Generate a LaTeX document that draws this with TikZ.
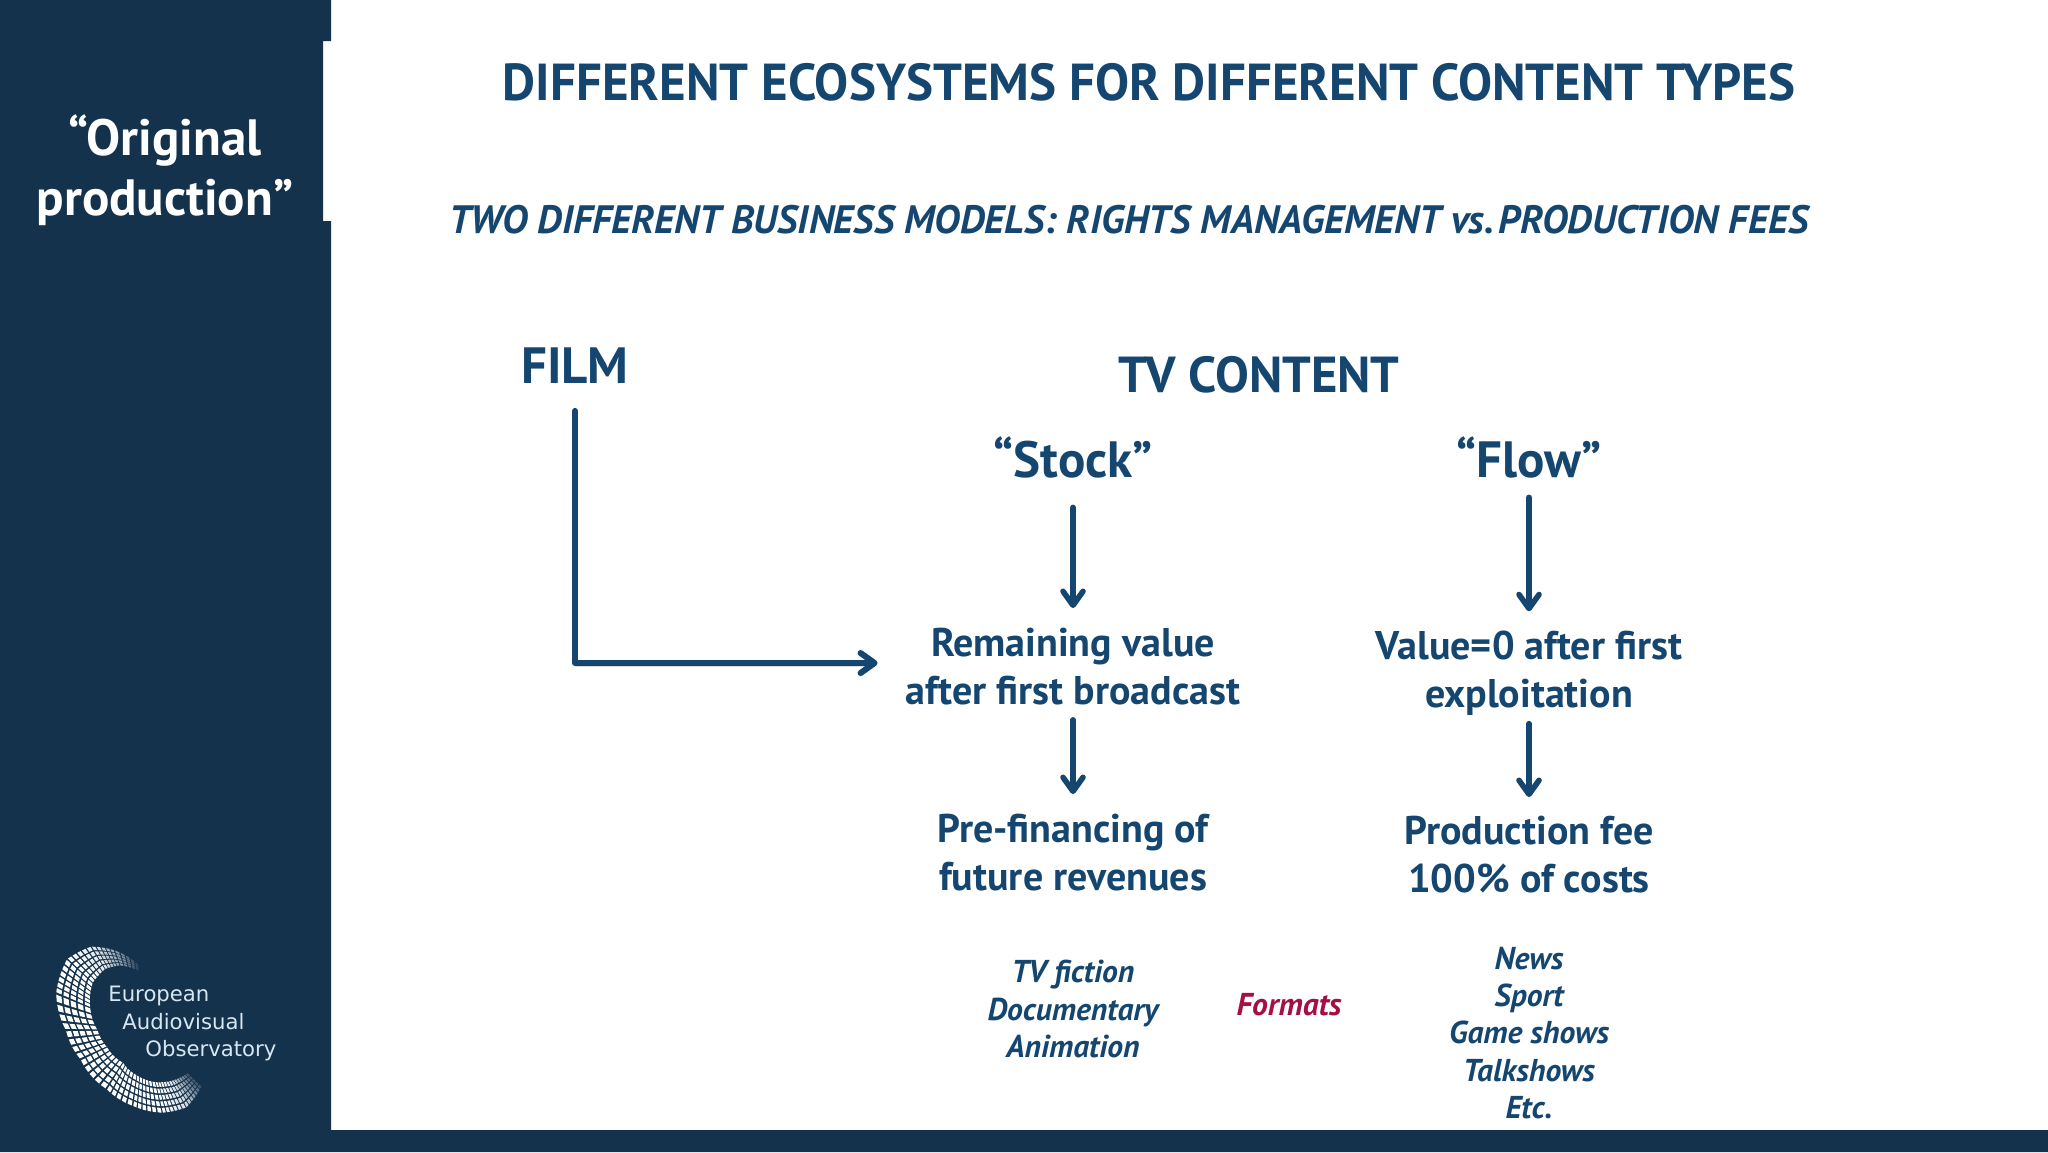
\documentclass[tikz,border=0pt]{standalone}
\usepackage{fontspec}
\usepackage{graphicx}
\setmainfont{PT Sans}
\newfontfamily\logofont{DejaVu Sans}
\usetikzlibrary{arrows.meta}
\definecolor{panel}{HTML}{15324D}
\definecolor{ink}{HTML}{154670}
\definecolor{formatred}{HTML}{A50F45}
\definecolor{logotext}{HTML}{D8E6EF}
\tikzset{
  txt/.style={inner sep=0pt,align=center,text=ink,font=\bfseries\fontsize{#1}{#1}\selectfont},
  body/.style={inner sep=0pt,align=center,text=ink,font=\bfseries\fontsize{20}{24}\selectfont},
  tag/.style={inner sep=0pt,align=center,text=ink,font=\bfseries\itshape\fontsize{15.8}{18.7}\selectfont},
  arr/.style={draw=ink,line width=2.8pt,-{Straight Barb[length=7pt,width=10pt,round]},line cap=round},
  bigarr/.style={draw=ink,line width=3pt,line join=round,line cap=round,-{Straight Barb[length=7pt,width=10pt,round]},
    preaction={draw=black,opacity=.14,transform canvas={yshift=-1.5pt}}},
  logotxt/.style={inner sep=0pt,anchor=base west,text=logotext,font=\logofont\fontsize{10.6}{10.6}\selectfont},
}
\begin{document}
\begin{tikzpicture}[x=0.5pt,y=-0.5pt]
\useasboundingbox (0,0) rectangle (2048,1152);
\fill[white] (0,0) rectangle (2048,1152);
\fill[panel] (0,0) -- (331,0) -- (331,41) -- (323,41) -- (323,221) -- (331,221) -- (331,1130) -- (2048,1130) -- (2048,1152) -- (0,1152) -- cycle;
% logo
\begin{scope}[shift={(143.3,1030)}]
\foreach \a/\b/\roa/\rob/\ria/\rib/\n/\opa/\opb in {
 94/110/195/256/178/205/5/0.1/0.55,
 110/122/256/297/205/214/5/0.55/0.9,
 122/137/297/315/214/205/5/0.9/1,
 137/157/315/287/205/170/6/1/1,
 157/180/287/235/170/135/4/1/1,
 180/205/235/210/135/118/4/1/1,
 205/238/210/211/118/113/5/1/1,
 238/262/211/232/113/135/5/1/1,
 262/283/232/257/135/158/6/1/1,
 283/299/257/268/158/172/6/1/0.85,
 299/316/268/244/172/185/7/0.85/0.15}{
  \foreach \k in {1,...,\n}{
    \pgfmathsetmacro{\ta}{(\k-1+0.15)/\n}
    \pgfmathsetmacro{\tb}{(\k-0.15)/\n}
    \pgfmathsetmacro{\angA}{-(\a+(\b-\a)*\ta)}
    \pgfmathsetmacro{\angB}{-(\a+(\b-\a)*\tb)}
    \pgfmathsetmacro{\ooA}{(\roa+(\rob-\roa)*\ta)/3}
    \pgfmathsetmacro{\ooB}{(\roa+(\rob-\roa)*\tb)/3}
    \pgfmathsetmacro{\iiA}{(\ria+(\rib-\ria)*\ta)/3}
    \pgfmathsetmacro{\iiB}{(\ria+(\rib-\ria)*\tb)/3}
    \pgfmathsetmacro{\tileop}{\opa+(\opb-\opa)*(\k-0.5)/\n}
    \foreach \j in {0,...,4}{
      \pgfmathsetmacro{\sa}{(\j+0.13)/5}
      \pgfmathsetmacro{\sb}{(\j+0.87)/5}
      \pgfmathsetmacro{\rA}{\iiA+(\ooA-\iiA)*\sa}
      \pgfmathsetmacro{\rB}{\iiA+(\ooA-\iiA)*\sb}
      \pgfmathsetmacro{\rC}{\iiB+(\ooB-\iiB)*\sb}
      \pgfmathsetmacro{\rD}{\iiB+(\ooB-\iiB)*\sa}
      \fill[white,opacity=\tileop] (\angA:\rA) -- (\angA:\rB) -- (\angB:\rC) -- (\angB:\rD) -- cycle;
    }
  }
}
\end{scope}
\node[logotxt] (l1) at (108,1001) {European};
\node[logotxt] (l2) at (122,1029) {Audiovisual};
\node[logotxt] (l3) at (145,1056) {Observatory};
% side heading
\node[inner sep=0pt,align=center,text=white,font=\bfseries\fontsize{25.5}{30}\selectfont] (side) at (165,170) {“Original\\production”};
% titles
\node[txt=26] (title) at (1149,82) {\scalebox{.98}[1]{DIFFERENT ECOSYSTEMS FOR DIFFERENT CONTENT TYPES}};
\node[inner sep=0pt,text=ink,font=\bfseries\itshape\fontsize{19.8}{24}\selectfont] (sub) at (1129,220) {TWO DIFFERENT BUSINESS MODELS: RIGHTS MANAGEMENT vs.\hspace{0.1em}PRODUCTION FEES};
% headings
\node[txt=25.5,minimum height=44.5pt] (film) at (575,366) {FILM};
\node[txt=25.3] (tv) at (1259,375) {TV CONTENT};
\node[txt=25.5,minimum height=50pt] (stock) at (1073,457) {“Stock”};
\node[txt=25.5,minimum height=40pt] (flow) at (1529,457) {“Flow”};
% body
\node[body] (rem) at (1073,667) {Remaining value\\after first broadcast};
\node[body] (val) at (1529,673) {Value=0 after first\\exploitation};
\node[body] (pre) at (1073,853) {Pre-financing of\\future revenues};
\node[body] (fee) at (1529,855) {Production fee\\100\% of costs};
% tags
\node[tag] (stocktags) at (1073,1009) {TV fiction\\Documentary\\Animation};
\node[tag,text=formatred] (formats) at (1289,1005) {Formats};
\node[tag] (flowtags) at (1529,1033) {News\\Sport\\Game shows\\Talkshows\\Etc.};
% connectors
\draw[bigarr] (film.south) |- ([xshift=-14pt,yshift=2pt]rem.west);
\draw[arr] (stock.south) -- ([yshift=10pt]rem.north);
\draw[arr] ([yshift=-7pt]rem.south) -- ([yshift=10pt]pre.north);
\draw[arr] (flow.south) -- ([yshift=9.5pt]val.north);
\draw[arr] ([yshift=-4pt]val.south) -- ([yshift=9.5pt]fee.north);
\end{tikzpicture}
\end{document}
